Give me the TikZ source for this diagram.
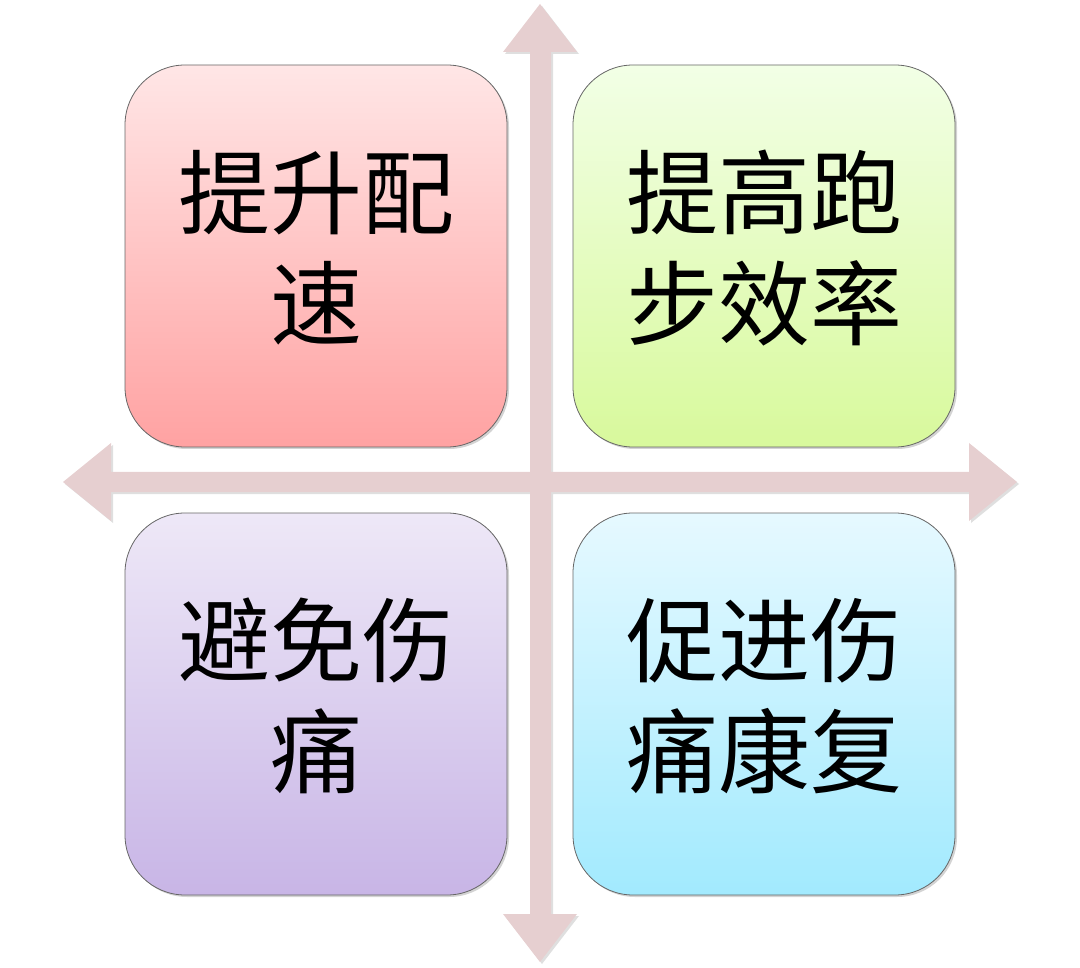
\documentclass[tikz,border=0pt]{standalone}
\usepackage{fontspec}
\newfontfamily\cjk{Noto Sans CJK SC}
\usetikzlibrary{shadows}
\definecolor{arrowc}{HTML}{E6CFD0}
\definecolor{tlTop}{HTML}{FFE6E6}
\definecolor{tlBot}{HTML}{FFA2A2}
\definecolor{trTop}{HTML}{F2FFE6}
\definecolor{trBot}{HTML}{D8F99C}
\definecolor{blTop}{HTML}{EEE8F7}
\definecolor{blBot}{HTML}{C8B5E6}
\definecolor{brTop}{HTML}{E6F9FF}
\definecolor{brBot}{HTML}{A2EAFE}
\tikzset{
  quad/.style={draw=black!60, line width=0.8pt, rounded corners=60pt,
    minimum width=382pt, minimum height=382pt, inner sep=0pt,
    drop shadow={opacity=0.35, shadow xshift=2pt, shadow yshift=-2pt}},
  quadtext/.style={align=center, inner sep=0pt,
    font=\cjk\fontsize{92}{111}\selectfont, text=black},
  axisfill/.style={fill=arrowc,
    drop shadow={opacity=0.25, shadow xshift=2pt, shadow yshift=-2pt}}
}
\begin{document}
\begin{tikzpicture}[x=1pt,y=-1pt]
\useasboundingbox (0,0) rectangle (1080,968);
% cross arrows
\fill[axisfill]
  (540,4) -- (577,52) -- (551,52) -- (551,472) -- (969,472) -- (969,443)
  -- (1017,482) -- (969,521) -- (969,492) -- (551,492) -- (551,914)
  -- (577,914) -- (540,962) -- (503,914) -- (530,914) -- (530,492)
  -- (111,492) -- (111,521) -- (63,482) -- (111,443) -- (111,472)
  -- (530,472) -- (530,52) -- (503,52) -- cycle;
% boxes
\node[quad, top color=tlTop, bottom color=tlBot] (tl) at (316,256) {};
\node[quad, top color=trTop, bottom color=trBot] (tr) at (764,256) {};
\node[quad, top color=blTop, bottom color=blBot] (bl) at (316,704) {};
\node[quad, top color=brTop, bottom color=brBot] (br) at (764,704) {};
% texts
\node[quadtext] (tlt) at ([yshift=8pt]tl.center) {提升配\\速};
\node[quadtext] (trt) at ([yshift=8pt]tr.center) {提高跑\\步效率};
\node[quadtext] (blt) at ([yshift=8pt]bl.center) {避免伤\\痛};
\node[quadtext] (brt) at ([yshift=8pt]br.center) {促进伤\\痛康复};
\end{tikzpicture}
\end{document}
